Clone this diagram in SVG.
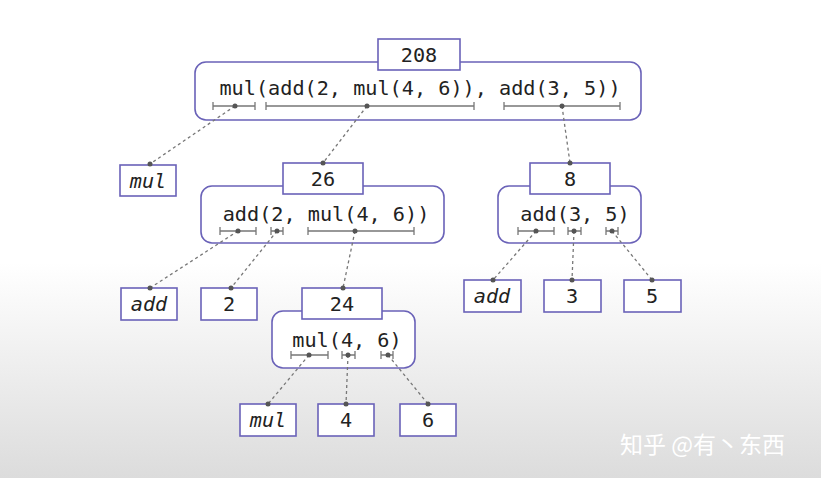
<svg xmlns="http://www.w3.org/2000/svg" width="821" height="478" viewBox="0 0 821 478">
<defs>
<linearGradient id="bg" x1="0" y1="0" x2="0" y2="1">
<stop offset="0" stop-color="#ffffff"/><stop offset="0.55" stop-color="#ffffff"/><stop offset="1" stop-color="#dcdcdc"/>
</linearGradient>
<style>
.b{fill:#fff;stroke:#6a62b8;stroke-width:1.6}
.t{font-family:"DejaVu Sans Mono",monospace;font-size:20.2px;fill:#222;text-anchor:middle}
.i{font-style:italic}
.c{stroke:#777;stroke-width:1.3;stroke-dasharray:3,3;fill:none}
.s{stroke:#777;stroke-width:1.3;fill:none}
.d{fill:#555}
</style>
</defs>
<rect width="821" height="478" fill="url(#bg)"/>
<g id="n208">
<rect class="b" x="195" y="62" width="446" height="58" rx="11"/>
<rect class="b" x="378" y="39" width="82" height="31"/>
<text class="t" x="419" y="62">208</text>
<text class="t" x="420" y="95">mul(add(2, mul(4, 6)), add(3, 5))</text>
<path class="s" d="M213 106H255M213 102V110M255 102V110M266 106H474M266 102V110M474 102V110M504 106H620M504 102V110M620 102V110"/>
</g>
<g id="n26">
<rect class="b" x="201" y="186" width="243" height="57" rx="11"/>
<rect class="b" x="283" y="163" width="80" height="31"/>
<text class="t" x="323" y="186">26</text>
<text class="t" x="326" y="221">add(2, mul(4, 6))</text>
<path class="s" d="M220 231H256M220 227V235M256 227V235M271 231H283M271 227V235M283 227V235M308 231H414M308 227V235M414 227V235"/>
</g>
<g id="n8">
<rect class="b" x="498" y="186" width="143" height="57" rx="11"/>
<rect class="b" x="530" y="163" width="80" height="31"/>
<text class="t" x="570" y="186">8</text>
<text class="t" x="575" y="221">add(3, 5)</text>
<path class="s" d="M518 231H554M518 227V235M554 227V235M568 231H581M568 227V235M581 227V235M606 231H618M606 227V235M618 227V235"/>
</g>
<g id="n24">
<rect class="b" x="272" y="311" width="143" height="57" rx="11"/>
<rect class="b" x="302" y="288" width="80" height="31"/>
<text class="t" x="342" y="311">24</text>
<text class="t" x="347" y="347">mul(4, 6)</text>
<path class="s" d="M291 355H328M291 351V359M328 351V359M342 355H355M342 351V359M355 351V359M381 355H393M381 351V359M393 351V359"/>
</g>
<g id="leaf_mul1"><rect class="b" x="120" y="165" width="56" height="31"/><text class="t i" x="148" y="188">mul</text></g>
<g id="leaf_add1"><rect class="b" x="121" y="288" width="56" height="32"/><text class="t i" x="149" y="311">add</text></g>
<g id="leaf_2"><rect class="b" x="201" y="288" width="56" height="32"/><text class="t" x="229" y="311">2</text></g>
<g id="leaf_mul2"><rect class="b" x="240" y="404" width="56" height="32"/><text class="t i" x="268" y="427">mul</text></g>
<g id="leaf_4"><rect class="b" x="318" y="404" width="56" height="32"/><text class="t" x="346" y="427">4</text></g>
<g id="leaf_6"><rect class="b" x="400" y="404" width="56" height="32"/><text class="t" x="428" y="427">6</text></g>
<g id="leaf_add2"><rect class="b" x="464" y="280" width="57" height="32"/><text class="t i" x="492" y="303">add</text></g>
<g id="leaf_3"><rect class="b" x="544" y="280" width="57" height="32"/><text class="t" x="572" y="303">3</text></g>
<g id="leaf_5"><rect class="b" x="624" y="280" width="57" height="32"/><text class="t" x="652" y="303">5</text></g>
<g id="connectors">
<path class="c" d="M235 106L150 164M367 106L323 163M562 106L570 163M238 231L150 288M277 231L231 288M355 231L343 288M536 231L493 280M574 231L572 280M612 231L652 280M309 355L268 404M348 355L346 404M388 355L428 404"/>
<g class="d">
<circle cx="235" cy="106" r="2.5"/><circle cx="367" cy="106" r="2.5"/><circle cx="562" cy="106" r="2.5"/>
<circle cx="150" cy="164" r="2.5"/><circle cx="323" cy="163" r="2.5"/><circle cx="570" cy="163" r="2.5"/>
<circle cx="238" cy="231" r="2.5"/><circle cx="277" cy="231" r="2.5"/><circle cx="355" cy="231" r="2.5"/>
<circle cx="150" cy="288" r="2.5"/><circle cx="231" cy="288" r="2.5"/><circle cx="343" cy="288" r="2.5"/>
<circle cx="536" cy="231" r="2.5"/><circle cx="574" cy="231" r="2.5"/><circle cx="612" cy="231" r="2.5"/>
<circle cx="493" cy="280" r="2.5"/><circle cx="572" cy="280" r="2.5"/><circle cx="652" cy="280" r="2.5"/>
<circle cx="309" cy="355" r="2.5"/><circle cx="348" cy="355" r="2.5"/><circle cx="388" cy="355" r="2.5"/>
<circle cx="268" cy="404" r="2.5"/><circle cx="346" cy="404" r="2.5"/><circle cx="428" cy="404" r="2.5"/>
</g>
</g>
<text x="620" y="453" font-family="'Noto Sans CJK SC',sans-serif" font-size="23" fill="#ffffff">知乎 @有丶东西</text>
</svg>
